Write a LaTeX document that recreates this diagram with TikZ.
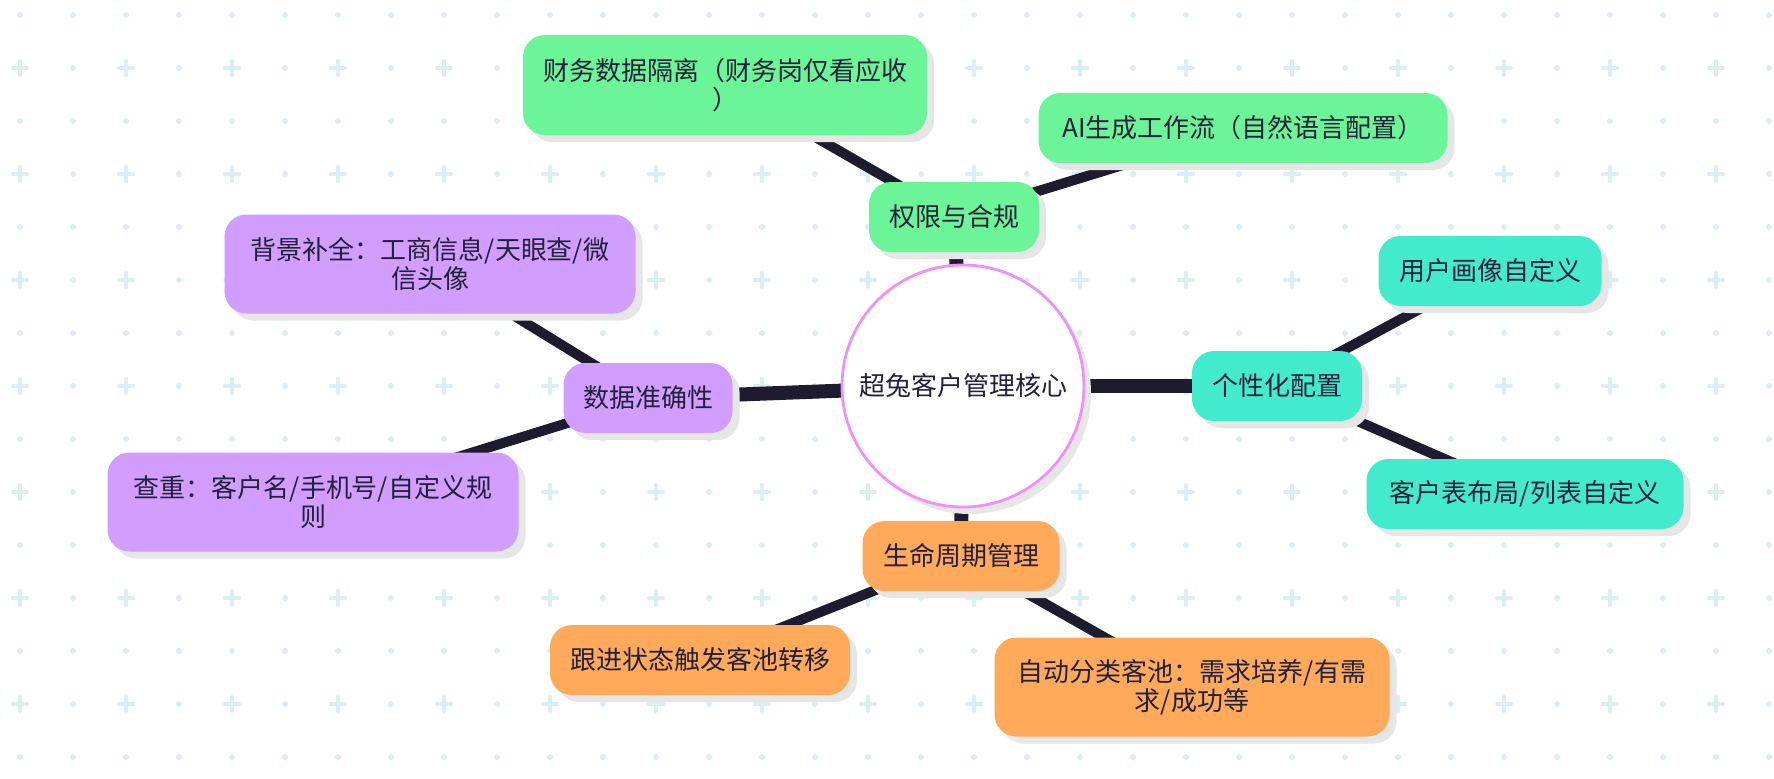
\documentclass[tikz,border=0pt]{standalone}
\usepackage{fontspec}
\setmainfont{Noto Sans CJK SC}
\usetikzlibrary{shadows}

\definecolor{ink}{HTML}{22203A}
\definecolor{wire}{HTML}{1E1B2E}
\definecolor{gridc}{HTML}{D9EFF3}
\definecolor{shade}{HTML}{E6E6E6}
\definecolor{ring}{HTML}{EE90FA}
\definecolor{leafgreen}{HTML}{6CF498}
\definecolor{leafpurple}{HTML}{D19EFF}
\definecolor{leafteal}{HTML}{43EBCD}
\definecolor{leaforange}{HTML}{FFAA5A}

\pgfdeclarelayer{grid}
\pgfdeclarelayer{links}
\pgfsetlayers{grid,links,main}

\begin{document}
\begin{tikzpicture}[x=0.5pt,y=-0.5pt,
		box/.style={rounded corners=11pt, text=ink, align=center, inner sep=2pt,
			minimum height=35pt, font=\fontsize{13}{14.5}\selectfont,
			drop shadow={shadow xshift=3.5pt, shadow yshift=-3.5pt, fill=shade, opacity=1}},
		tall/.style={minimum height=49.5pt},
		trunk/.style={draw=wire, line width=7pt},
		twig/.style={draw=wire, line width=5pt}]
	\useasboundingbox (0,0) rectangle (1774,778);
	% dotted backdrop
	\begin{pgfonlayer}{grid}
		\fill[white] (0,0) rectangle (1774,778);
		\foreach \i in {0,...,33}{
			\foreach \j in {0,...,14}{
				\ifodd\j
					\ifodd\i
						\fill[gridc] ({20+53*\i},{15+53*\j}) circle (1.5pt);
					\else
						\draw[gridc, line width=2pt, line cap=round] ({13+53*\i},{15+53*\j}) -- ({27+53*\i},{15+53*\j}) ({20+53*\i},{8+53*\j}) -- ({20+53*\i},{22+53*\j});
					\fi
				\else
					\fill[gridc] ({20+53*\i},{15+53*\j}) circle (1.5pt);
				\fi
			}
		}
	\end{pgfonlayer}

	\node[circle, draw=ring, line width=1.4pt, fill=white, minimum size=121pt, text=ink,
		font=\fontsize{13}{14.5}\selectfont,
		drop shadow={shadow xshift=3.5pt, shadow yshift=-3.5pt, fill=shade, opacity=1}] (core) at (963,386) {超兔客户管理核心};

	\node[box, fill=leafgreen, minimum width=85pt] (perm) at (954,217) {权限与合规};
	\node[box, tall, fill=leafgreen, minimum width=202pt, minimum height=50pt] (fin) at (725,85) {财务数据隔离（财务岗仅看应收\\）};
	\node[box, fill=leafgreen, minimum width=204.5pt] (ai) at (1243,128) {AI生成工作流（自然语言配置）};

	\node[box, fill=leafteal, minimum width=85pt] (cfg) at (1277,386) {个性化配置};
	\node[box, fill=leafteal, minimum width=111.5pt] (persona) at (1490,271) {用户画像自定义};
	\node[box, fill=leafteal, minimum width=158.5pt] (layout) at (1525,494) {客户表布局/列表自定义};

	\node[box, fill=leaforange, minimum width=98.5pt] (life) at (961,556) {生命周期管理};
	\node[box, fill=leaforange, minimum width=150pt] (follow) at (700,660) {跟进状态触发客池转移};
	\node[box, tall, fill=leaforange, minimum width=197.5pt] (pool) at (1192,687) {自动分类客池：需求培养/有需\\求/成功等};

	\node[box, fill=leafpurple, minimum width=84.5pt] (acc) at (648,398) {数据准确性};
	\node[box, tall, fill=leafpurple, minimum width=205.5pt] (bg) at (430,264) {背景补全：工商信息/天眼查/微\\信头像};
	\node[box, tall, fill=leafpurple, minimum width=205.5pt] (dup) at (313,502) {查重：客户名/手机号/自定义规\\则};

	\begin{pgfonlayer}{links}
		\path[trunk] (core.center) edge (perm.center) edge (cfg.center) edge (life.center) edge (acc.center);
		\path[twig] (perm.center) edge (fin.center) edge (ai.center);
		\path[twig] (cfg.center) edge (persona.center) edge (layout.center);
		\path[twig] (life.center) edge (follow.center) edge (pool.center);
		\path[twig] (acc.center) edge (bg.center) edge (dup.center);
	\end{pgfonlayer}
\end{tikzpicture}
\end{document}
